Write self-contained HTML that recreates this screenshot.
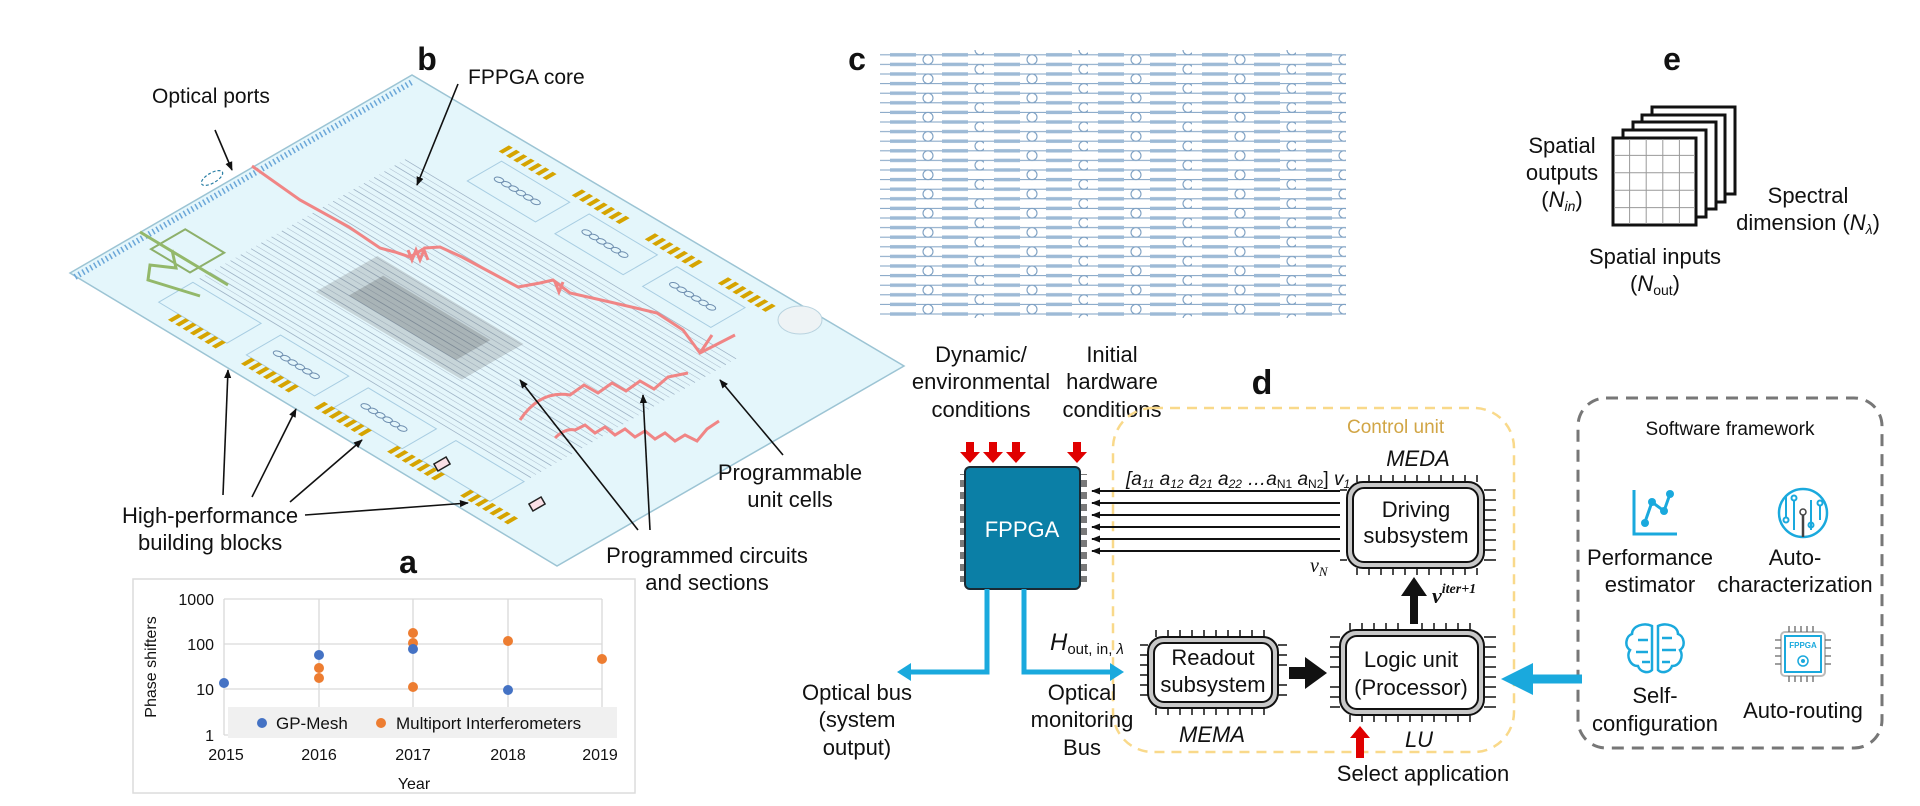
<!DOCTYPE html>
<html><head><meta charset="utf-8"><style>
html,body{margin:0;padding:0;background:#fff;}
svg{display:block;}
text{font-family:"Liberation Sans",sans-serif;fill:#111;}
</style></head><body>
<svg width="1920" height="806" viewBox="0 0 1920 806" xmlns="http://www.w3.org/2000/svg">
<defs>
<marker id="ah" viewBox="0 0 10 10" refX="9" refY="5" markerWidth="9" markerHeight="9" markerUnits="userSpaceOnUse" orient="auto"><path d="M0,1 L10,5 L0,9 z" fill="#111"/></marker>
<pattern id="mzi" x="880" y="50" width="104" height="19.2" patternUnits="userSpaceOnUse">
<g fill="none" stroke="#7c9fc2" stroke-width="1.1">
<line x1="0" y1="4.8" x2="104" y2="4.8"/><line x1="0" y1="14.4" x2="104" y2="14.4"/>
<ellipse cx="48" cy="9.6" rx="5" ry="4.8"/><ellipse cx="100" cy="19.2" rx="5" ry="4.8"/><ellipse cx="100" cy="0" rx="5" ry="4.8"/>
</g>
<g stroke="#9dbad6" stroke-width="3.4">
<line x1="10" y1="4.8" x2="36" y2="4.8"/><line x1="10" y1="14.4" x2="36" y2="14.4"/>
<line x1="62" y1="4.8" x2="88" y2="4.8"/><line x1="62" y1="14.4" x2="88" y2="14.4"/>
</g>
</pattern>
<pattern id="pins" width="12" height="12" patternUnits="userSpaceOnUse"><rect x="0" y="0" width="7" height="7" fill="#7a7a7a"/></pattern>
<g id="pad" fill="#d6a400">
<rect x="0" y="0" width="3" height="0.8"/><rect x="0" y="1.5" width="3" height="0.8"/><rect x="0" y="3" width="3" height="0.8"/><rect x="0" y="4.5" width="3" height="0.8"/><rect x="0" y="6" width="3" height="0.8"/><rect x="0" y="7.5" width="3" height="0.8"/><rect x="0" y="9" width="3" height="0.8"/>
</g>
<g id="ring" fill="none" stroke="#6f8fb0" stroke-width="1" >
<circle cx="0" cy="0" r="0.8" vector-effect="non-scaling-stroke"/><circle cx="0" cy="1.5" r="0.8" vector-effect="non-scaling-stroke"/><circle cx="0" cy="3" r="0.8" vector-effect="non-scaling-stroke"/><circle cx="0" cy="4.5" r="0.8" vector-effect="non-scaling-stroke"/><circle cx="0" cy="6" r="0.8" vector-effect="non-scaling-stroke"/><circle cx="0" cy="7.5" r="0.8" vector-effect="non-scaling-stroke"/>
</g>
</defs>

<!-- ===== Panel b chip ===== -->
<polygon points="70,273 412,75 904,366 557,566" fill="#e4f6fb" stroke="#9cc4d4" stroke-width="1.5"/>
<g transform="matrix(3.42,-1.98,4.87,2.93,70,273)">
  <g stroke="#9fb3c6" stroke-width="0.8" fill="none">
    <path vector-effect="non-scaling-stroke" d="M18,14V82M21,14V82M24,14V82M27,14V82M30,14V82M33,14V82M36,14V82M39,14V82M42,14V82M45,14V82M48,14V82M51,14V82M54,14V82M57,14V82M60,14V82M63,14V82M66,14V82M69,14V82M72,14V82M75,14V82M78,14V82"/>
  </g>
  <g stroke="#b3c4d4" stroke-width="0.6" fill="none">
    <path vector-effect="non-scaling-stroke" d="M19.5,14V82M22.5,14V82M25.5,14V82M28.5,14V82M31.5,14V82M34.5,14V82M37.5,14V82M40.5,14V82M43.5,14V82M46.5,14V82M49.5,14V82M52.5,14V82M55.5,14V82M58.5,14V82M61.5,14V82M64.5,14V82M67.5,14V82M70.5,14V82M73.5,14V82M76.5,14V82"/>
  </g>
  <rect x="32" y="28" width="18" height="30" fill="#555" opacity="0.2"/>
  <rect x="36" y="32" width="10" height="22" fill="#333" opacity="0.2"/>
  <g fill="none" stroke="#a8cde2" stroke-width="1">
    <rect x="6" y="14" width="10" height="14" vector-effect="non-scaling-stroke"/>
    <rect x="6" y="32" width="10" height="14" vector-effect="non-scaling-stroke"/>
    <rect x="6" y="50" width="10" height="14" vector-effect="non-scaling-stroke"/>
    <rect x="6" y="68" width="10" height="14" vector-effect="non-scaling-stroke"/>
    <rect x="82" y="24" width="10" height="14" vector-effect="non-scaling-stroke"/>
    <rect x="82" y="42" width="10" height="14" vector-effect="non-scaling-stroke"/>
    <rect x="82" y="60" width="10" height="14" vector-effect="non-scaling-stroke"/>
  </g>
  <use href="#ring" x="11" y="35"/><use href="#ring" x="11" y="53"/><use href="#ring" x="87" y="27"/><use href="#ring" x="87" y="45"/><use href="#ring" x="87" y="63"/>
  <use href="#pad" x="3" y="18"/><use href="#pad" x="3" y="33"/><use href="#pad" x="3" y="48"/><use href="#pad" x="3" y="63"/><use href="#pad" x="3" y="78"/>
  <use href="#pad" x="94" y="22"/><use href="#pad" x="94" y="37"/><use href="#pad" x="94" y="52"/><use href="#pad" x="94" y="67"/>
  <rect x="18" y="4" width="10" height="8" fill="none" stroke="#8db06a" stroke-width="2" vector-effect="non-scaling-stroke"/>
</g>
<line x1="75" y1="277" x2="412" y2="82" stroke="#6aa6d8" stroke-width="6" stroke-dasharray="1.5 3"/>
<path d="M140,232 L228,285 M172,250 L176,268 L150,265 L148,280 L200,296" fill="none" stroke="#93b86a" stroke-width="3"/>
<path d="M252,166 L300,200 L349,227 L380,248 L395,252 L410,257 L425,248 L440,247 L462,257 L490,272 L518,287 L540,283 L553,280 L570,293 L610,302 L657,313 L683,330 L700,353 L735,335 M700,353 L712,335" fill="none" stroke="#f08585" stroke-width="3"/>
<path d="M408,250 l4,10 l4,-10 l4,10 l4,-10 l4,10 M555,282 l4,10 l4,-10" fill="none" stroke="#f08585" stroke-width="3"/>
<path d="M555,438 q10,-10 20,-8 l10,-5 l10,8 l10,-6 l10,8 l10,-6 l10,8 l10,-6 l10,8 l10,-6 l10,8 l10,-6 l12,6 l10,-12 l12,-8" fill="none" stroke="#f08585" stroke-width="3"/>
<path d="M520,420 q20,-30 50,-25 l14,-10 l14,8 l14,-10 l14,8 l14,-10 l14,8 l14,-12 l20,-4" fill="none" stroke="#f08585" stroke-width="3"/>
<rect x="435" y="460" width="14" height="8" fill="#fbe0e6" stroke="#222" stroke-width="1.5" transform="rotate(-30 442 464)"/>
<rect x="530" y="500" width="14" height="8" fill="#fbe0e6" stroke="#222" stroke-width="1.5" transform="rotate(-30 537 504)"/>
<ellipse cx="800" cy="320" rx="22" ry="14" fill="#eef3f5" stroke="#b9d3df"/>

<text x="427" y="70" font-size="32" font-weight="bold" text-anchor="middle">b</text>
<text x="468" y="84" font-size="21">FPPGA core</text>
<text x="152" y="103" font-size="21">Optical ports</text>
<line x1="215" y1="130" x2="232" y2="170" stroke="#111" stroke-width="1.6" marker-end="url(#ah)"/>
<line x1="458" y1="84" x2="417" y2="185" stroke="#111" stroke-width="1.6" marker-end="url(#ah)"/>
<ellipse cx="212" cy="178" rx="12" ry="5" fill="none" stroke="#2a7fa5" stroke-width="1.2" stroke-dasharray="3 2" transform="rotate(-30 212 178)"/>
<text x="122" y="523" font-size="22">High-performance</text>
<text x="138" y="550" font-size="22">building blocks</text>
<g stroke="#111" stroke-width="1.6" marker-end="url(#ah)">
<line x1="223" y1="495" x2="228" y2="370"/>
<line x1="252" y1="497" x2="296" y2="409"/>
<line x1="290" y1="502" x2="362" y2="440"/>
<line x1="305" y1="515" x2="468" y2="503"/>
<line x1="638" y1="530" x2="520" y2="380"/>
<line x1="650" y1="530" x2="643" y2="395"/>
<line x1="783" y1="455" x2="720" y2="380"/>
</g>
<text x="790" y="480" font-size="22" text-anchor="middle">Programmable</text>
<text x="790" y="507" font-size="22" text-anchor="middle">unit cells</text>
<text x="707" y="563" font-size="22" text-anchor="middle">Programmed circuits</text>
<text x="707" y="590" font-size="22" text-anchor="middle">and sections</text>

<!-- ===== Panel a ===== -->
<text x="408" y="573" font-size="32" font-weight="bold" text-anchor="middle">a</text>
<rect x="133" y="579" width="502" height="214" fill="#fff" stroke="#dcdcdc" stroke-width="1.5"/>
<g stroke="#d9d9d9" stroke-width="1.3">
<line x1="224" y1="599" x2="602" y2="599"/><line x1="224" y1="644" x2="602" y2="644"/><line x1="224" y1="689" x2="602" y2="689"/><line x1="224" y1="735" x2="602" y2="735"/>
<line x1="224" y1="599" x2="224" y2="735"/><line x1="319" y1="599" x2="319" y2="735"/><line x1="413" y1="599" x2="413" y2="735"/><line x1="508" y1="599" x2="508" y2="735"/><line x1="602" y1="599" x2="602" y2="735"/>
</g>
<g font-size="16" text-anchor="end">
<text x="214" y="605">1000</text><text x="214" y="650">100</text><text x="214" y="695">10</text><text x="214" y="741">1</text>
</g>
<g font-size="16" text-anchor="middle">
<text x="226" y="760">2015</text><text x="319" y="760">2016</text><text x="413" y="760">2017</text><text x="508" y="760">2018</text><text x="600" y="760">2019</text>
<text x="414" y="789">Year</text>
</g>
<text x="0" y="0" font-size="16" text-anchor="middle" transform="translate(156,667) rotate(-90)">Phase shifters</text>
<g fill="#ed7d31">
<circle cx="319" cy="668" r="5"/><circle cx="319" cy="678" r="5"/><circle cx="413" cy="633" r="5"/><circle cx="413" cy="643" r="5"/><circle cx="413" cy="687" r="5"/><circle cx="508" cy="641" r="5"/><circle cx="602" cy="659" r="5"/>
</g>
<g fill="#4472c4">
<circle cx="224" cy="683" r="5"/><circle cx="319" cy="655" r="5"/><circle cx="413" cy="649" r="5"/><circle cx="508" cy="690" r="5"/>
</g>
<rect x="228" y="707" width="389" height="31" fill="#f0f0f0"/>
<circle cx="262" cy="723" r="5" fill="#4472c4"/>
<text x="276" y="729" font-size="17">GP-Mesh</text>
<circle cx="381" cy="723" r="5" fill="#ed7d31"/>
<text x="396" y="729" font-size="17">Multiport Interferometers</text>

<!-- ===== Panel c ===== -->
<text x="857" y="70" font-size="32" font-weight="bold" text-anchor="middle">c</text>
<rect x="880" y="50" width="466" height="268" fill="url(#mzi)"/>

<!-- ===== Panel e ===== -->
<text x="1672" y="70" font-size="32" font-weight="bold" text-anchor="middle">e</text>
<g stroke="#111" stroke-width="3" fill="#fff">
<rect x="1652" y="107" width="83" height="87"/>
<rect x="1642" y="115" width="83" height="87"/>
<rect x="1633" y="122" width="83" height="87"/>
<rect x="1623" y="130" width="83" height="87"/>
<rect x="1613" y="138" width="83" height="87"/>
</g>
<g stroke="#999" stroke-width="1">
<line x1="1629.6" y1="139" x2="1629.6" y2="224"/><line x1="1646.2" y1="139" x2="1646.2" y2="224"/><line x1="1662.8" y1="139" x2="1662.8" y2="224"/><line x1="1679.4" y1="139" x2="1679.4" y2="224"/>
<line x1="1614" y1="155.4" x2="1695" y2="155.4"/><line x1="1614" y1="172.8" x2="1695" y2="172.8"/><line x1="1614" y1="190.2" x2="1695" y2="190.2"/><line x1="1614" y1="207.6" x2="1695" y2="207.6"/>
</g>
<g font-size="22" text-anchor="middle">
<text x="1562" y="153">Spatial</text><text x="1562" y="180">outputs</text>
<text x="1562" y="207">(<tspan font-style="italic">N</tspan><tspan font-style="italic" font-size="14" dy="4">in</tspan><tspan dy="-4">)</tspan></text>
<text x="1808" y="203">Spectral</text>
<text x="1808" y="230">dimension (<tspan font-style="italic">N</tspan><tspan font-style="italic" font-size="14" dy="4">λ</tspan><tspan dy="-4">)</tspan></text>
<text x="1655" y="264">Spatial inputs</text>
<text x="1655" y="291">(<tspan font-style="italic">N</tspan><tspan font-size="14" dy="4">out</tspan><tspan dy="-4">)</tspan></text>
</g>

<!-- ===== Panel d ===== -->
<g font-size="22" text-anchor="middle">
<text x="981" y="362">Dynamic/</text><text x="981" y="389">environmental</text><text x="981" y="417">conditions</text>
<text x="1112" y="362">Initial</text><text x="1112" y="389">hardware</text><text x="1112" y="417">conditions</text>
</g>
<text x="1262" y="394" font-size="34" font-weight="bold" text-anchor="middle">d</text>
<rect x="1113" y="408" width="401" height="344" rx="40" fill="none" stroke="#f9d98a" stroke-width="2.5" stroke-dasharray="10 7"/>
<text x="1347" y="433" font-size="19" style="fill:#d1a545">Control unit</text>
<g fill="#e00000">
<path d="M966,442h8v10h6l-10,11l-10,-11h6z"/>
<path d="M989,442h8v10h6l-10,11l-10,-11h6z"/>
<path d="M1012,442h8v10h6l-10,11l-10,-11h6z"/>
<path d="M1073,442h8v10h6l-10,11l-10,-11h6z"/>
</g>
<rect x="958" y="474" width="8" height="108" fill="url(#pins)"/>
<rect x="1079" y="474" width="13" height="108" fill="url(#pins)"/>
<rect x="965" y="467" width="115" height="122" rx="5" fill="#0b7fa6" stroke="#1a2a33" stroke-width="2"/>
<text x="1022" y="537" font-size="22" text-anchor="middle" style="fill:#fff">FPPGA</text>
<g stroke="#111" stroke-width="2" marker-end="url(#ah)">
<line x1="1340" y1="491" x2="1092" y2="491"/><line x1="1340" y1="503" x2="1092" y2="503"/><line x1="1340" y1="515" x2="1092" y2="515"/><line x1="1340" y1="527" x2="1092" y2="527"/><line x1="1340" y1="539" x2="1092" y2="539"/><line x1="1340" y1="551" x2="1092" y2="551"/>
</g>
<text x="1126" y="485" font-size="19" font-style="italic">[a<tspan font-size="12" dy="3">11</tspan><tspan dy="-3"> a</tspan><tspan font-size="12" dy="3">12</tspan><tspan dy="-3"> a</tspan><tspan font-size="12" dy="3">21</tspan><tspan dy="-3"> a</tspan><tspan font-size="12" dy="3">22</tspan><tspan dy="-3"> …a</tspan><tspan font-size="12" dy="3" font-style="normal">N1</tspan><tspan dy="-3"> a</tspan><tspan font-size="12" dy="3" font-style="normal">N2</tspan><tspan dy="-3" font-style="normal">] </tspan><tspan>v</tspan><tspan font-size="12" dy="3">1</tspan></text>
<text x="1310" y="572" font-size="20" font-style="italic" style="font-family:'Liberation Serif',serif">v<tspan font-size="13" dy="4">N</tspan></text>
<text x="1418" y="466" font-size="22" font-style="italic" text-anchor="middle">MEDA</text>

<g stroke="#111" stroke-width="1.5">
<path d="M1357,475v7M1369,475v7M1381,475v7M1393,475v7M1405,475v7M1417,475v7M1429,475v7M1441,475v7M1453,475v7M1465,475v7M1477,475v7"/>
<path d="M1357,568v7M1369,568v7M1381,568v7M1393,568v7M1405,568v7M1417,568v7M1429,568v7M1441,568v7M1453,568v7M1465,568v7M1477,568v7"/>
<path d="M1484,490h12M1484,500h12M1484,510h12M1484,520h12M1484,530h12M1484,540h12M1484,550h12M1484,560h12"/>
<path d="M1340,490h7M1340,560h7"/>
</g>
<rect x="1347" y="482" width="137" height="86" rx="16" fill="#c8c8c8" stroke="#111" stroke-width="2"/>
<rect x="1353" y="488" width="125" height="74" rx="11" fill="#fff" stroke="#111" stroke-width="2"/>
<text x="1416" y="517" font-size="22" text-anchor="middle">Driving</text>
<text x="1416" y="543" font-size="22" text-anchor="middle">subsystem</text>

<g stroke="#111" stroke-width="1.5">
<path d="M1350,623v7M1362,623v7M1374,623v7M1386,623v7M1398,623v7M1422,623v7M1434,623v7M1446,623v7M1458,623v7M1470,623v7"/>
<path d="M1350,715v7M1362,715v7M1374,715v7M1386,715v7M1398,715v7M1410,715v7M1422,715v7M1434,715v7M1446,715v7M1458,715v7M1470,715v7"/>
<path d="M1484,637h12M1484,647h12M1484,657h12M1484,667h12M1484,677h12M1484,687h12M1484,697h12M1484,707h12"/>
<path d="M1330,637h10M1330,647h10M1330,657h10M1330,667h10M1330,687h10M1330,697h10M1330,707h10"/>
</g>
<rect x="1340" y="630" width="144" height="85" rx="16" fill="#c8c8c8" stroke="#111" stroke-width="2"/>
<rect x="1346" y="636" width="132" height="73" rx="11" fill="#fff" stroke="#111" stroke-width="2"/>
<text x="1411" y="667" font-size="22" text-anchor="middle">Logic unit</text>
<text x="1411" y="695" font-size="22" text-anchor="middle">(Processor)</text>
<text x="1419" y="747" font-size="22" font-style="italic" text-anchor="middle">LU</text>

<g stroke="#111" stroke-width="1.5">
<path d="M1156,630v7M1168,630v7M1180,630v7M1192,630v7M1204,630v7M1216,630v7M1228,630v7M1240,630v7M1252,630v7M1264,630v7"/>
<path d="M1156,708v7M1168,708v7M1180,708v7M1192,708v7M1204,708v7M1216,708v7M1228,708v7M1240,708v7M1252,708v7M1264,708v7"/>
<path d="M1140,645h8M1140,655h8M1140,665h8M1140,675h8M1140,685h8M1140,695h8"/>
<path d="M1278,645h9M1278,655h9M1278,665h9M1278,685h9M1278,695h9"/>
</g>
<rect x="1148" y="637" width="130" height="71" rx="15" fill="#c8c8c8" stroke="#111" stroke-width="2"/>
<rect x="1154" y="643" width="118" height="59" rx="10" fill="#fff" stroke="#111" stroke-width="2"/>
<text x="1213" y="665" font-size="22" text-anchor="middle">Readout</text>
<text x="1213" y="692" font-size="22" text-anchor="middle">subsystem</text>
<text x="1212" y="742" font-size="22" font-style="italic" text-anchor="middle">MEMA</text>

<path d="M1289,667h16v-10l22,16l-22,16v-10h-16z" fill="#111"/>
<path d="M1410,624v-28h-9l13,-19l13,19h-9v28z" fill="#111"/>
<text x="1432" y="603" font-size="22" font-style="italic" style="font-family:'Liberation Serif',serif" font-weight="bold">v<tspan font-size="14" dy="-10">iter+1</tspan></text>

<path d="M1356,758v-20h-6l10,-12l10,12h-6v20z" fill="#e00000"/>
<text x="1423" y="781" font-size="22" text-anchor="middle">Select application</text>

<g fill="none" stroke="#1aa9dd" stroke-width="5">
<path d="M987,589V672H905"/>
<path d="M1024,589V672H1112"/>
</g>
<path d="M897,672l14,-9v18z" fill="#1aa9dd"/>
<path d="M1124,672l-14,-9v18z" fill="#1aa9dd"/>
<text x="1050" y="650" font-size="24" font-style="italic">H<tspan font-size="15" font-style="normal" dy="4">out, in, </tspan><tspan font-size="15" font-style="italic">λ</tspan></text>
<g font-size="22" text-anchor="middle">
<text x="857" y="700">Optical bus</text><text x="857" y="727">(system</text><text x="857" y="755">output)</text>
<text x="1082" y="700">Optical</text><text x="1082" y="727">monitoring</text><text x="1082" y="755">Bus</text>
</g>

<rect x="1578" y="398" width="304" height="350" rx="28" fill="none" stroke="#777" stroke-width="3" stroke-dasharray="12 8"/>
<path d="M1582,679H1530" stroke="#1aa9dd" stroke-width="9"/>
<path d="M1501,679l32,-16v32z" fill="#1aa9dd"/>
<text x="1730" y="435" font-size="19" text-anchor="middle">Software framework</text>
<g stroke="#1aa9dd" stroke-width="3" fill="none">
<path d="M1634,490V534H1677"/>
<path d="M1645,522L1652,502L1664,511L1670,494"/>
</g>
<g fill="#1aa9dd"><circle cx="1645" cy="523" r="4"/><circle cx="1652" cy="502" r="4"/><circle cx="1664" cy="511" r="4"/><circle cx="1670" cy="494" r="4"/></g>
<circle cx="1803" cy="513" r="24" fill="none" stroke="#1aa9dd" stroke-width="2.5"/>
<g stroke="#1aa9dd" stroke-width="2" fill="none">
<path d="M1786,495v22M1794,500v30M1811,500v30M1820,505v15"/>
<circle cx="1786" cy="520" r="2.5"/><circle cx="1794" cy="498" r="2.5"/><circle cx="1811" cy="525" r="2.5"/><circle cx="1820" cy="503" r="2.5"/>
</g>
<path d="M1803,514v23" stroke="#444" stroke-width="2.5"/><circle cx="1803" cy="512" r="3" fill="#fff" stroke="#444" stroke-width="1.5"/>
<g font-size="22" text-anchor="middle">
<text x="1650" y="565">Performance</text><text x="1650" y="592">estimator</text>
<text x="1795" y="565">Auto-</text><text x="1795" y="592">characterization</text>
<text x="1655" y="703">Self-</text><text x="1655" y="731">configuration</text>
<text x="1803" y="718">Auto-routing</text>
</g>
<g stroke="#1aa9dd" stroke-width="2.5" fill="none">
<path d="M1652,626c-8,-4 -20,0 -20,8c-6,2 -8,12 -2,16c-4,6 0,16 8,16c2,6 10,8 14,4z"/>
<path d="M1658,626c8,-4 20,0 20,8c6,2 8,12 2,16c4,6 0,16 -8,16c-2,6 -10,8 -14,4z"/>
<path d="M1638,640h10M1636,652h12M1642,662h8M1662,638h10M1662,650h14M1662,662h8"/>
</g>
<rect x="1781" y="632" width="44" height="44" rx="4" fill="#fff" stroke="#bbb" stroke-width="2"/>
<rect x="1785" y="636" width="36" height="36" fill="#fff" stroke="#1aa9dd" stroke-width="2"/>
<g stroke="#666" stroke-width="1.3">
<path d="M1789,626v6M1795,626v6M1801,626v6M1807,626v6M1813,626v6M1789,676v6M1795,676v6M1801,676v6M1807,676v6M1813,676v6M1775,640h6M1775,648h6M1775,656h6M1775,664h6M1825,640h6M1825,648h6M1825,656h6M1825,664h6"/>
</g>
<text x="1803" y="648" font-size="8" font-weight="bold" text-anchor="middle" style="fill:#1aa9dd">FPPGA</text>
<circle cx="1803" cy="661" r="5" fill="none" stroke="#1aa9dd" stroke-width="1.5"/><circle cx="1803" cy="661" r="2" fill="#1aa9dd"/>
</svg>
</body></html>
